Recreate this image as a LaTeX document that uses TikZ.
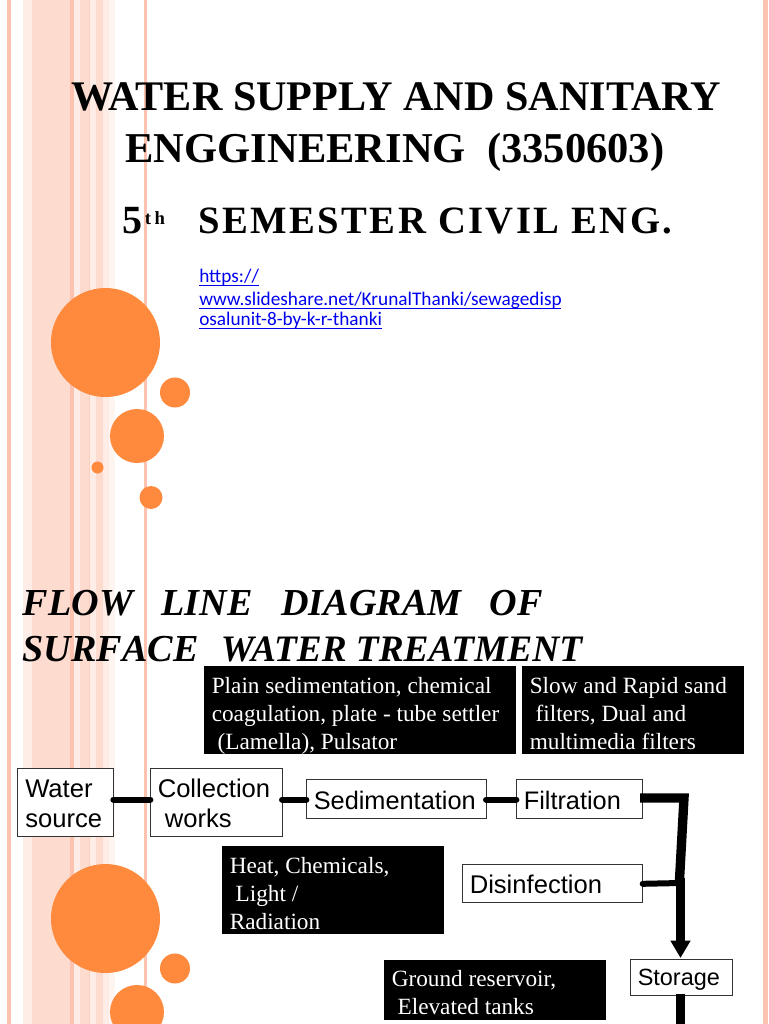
\documentclass[tikz,border=0pt]{standalone}
\usepackage{fontspec}
\setmainfont{Liberation Serif}
\newfontfamily\arialf{Liberation Sans}
\newfontfamily\linkf{Carlito}
\newfontfamily\spacedf[LetterSpace=6.2]{Liberation Serif}
\newfontfamily\spacedth[LetterSpace=20]{Liberation Serif}
\usetikzlibrary{arrows.meta}
\definecolor{strongp}{HTML}{FDC3AE}
\definecolor{midp}{HTML}{FDDBCF}
\definecolor{lightp}{HTML}{FEECE6}
\definecolor{orangec}{HTML}{FF8A3D}
\definecolor{linkc}{HTML}{0000EE}
\tikzset{
  x=0.75pt,y=-0.75pt,
  strip/.style={fill=#1,draw=none},
  disc/.style={fill=orangec,draw=none,circle,inner sep=0pt,minimum size=#1*0.75pt},
  ttl/.style={anchor=base,font=\fontsize{31.6pt}{34pt}\selectfont\bfseries,inner sep=0pt},
  hd/.style={anchor=base west,font=\fontsize{28.6pt}{30pt}\selectfont\bfseries\itshape,inner sep=0pt},
  blk/.style={fill=black,draw=none},
  blktxt/.style={anchor=base west,text=white,font=\fontsize{17.45pt}{20pt}\selectfont,inner sep=0pt},
  wbox/.style={draw=black!80,line width=0.75pt,fill=white},
  boxtxt/.style={anchor=base west,font=\arialf\fontsize{19.2pt}{22pt}\selectfont,inner sep=0pt},
  lnk/.style={anchor=base west,text=linkc,font=\linkf\fontsize{14.45pt}{16pt}\selectfont,inner sep=0pt},
  flow/.style={line width=4.5pt,line cap=round},
  trunk/.style={line width=6.5pt},
}
\begin{document}
\begin{tikzpicture}
\useasboundingbox (0,0) rectangle (768,1024);
\fill[white] (0,0) rectangle (768,1024);
% stripes
\fill[strip=strongp] (6.5,0) rectangle (11,1024);
\fill[strip=lightp] (23,0) rectangle (32,1024);
\fill[strip=midp] (32,0) rectangle (70,1024);
\fill[strip=strongp] (70,0) rectangle (74,1024);
\fill[strip=lightp] (74,0) rectangle (80,1024);
\fill[strip=midp] (80,0) rectangle (89,1024);
\fill[strip=strongp!80!white] (89,0) rectangle (90,1024);
\fill[strip=lightp] (90,0) rectangle (96,1024);
\fill[strip=midp] (96,0) rectangle (103,1024);
\fill[strip=lightp] (103,0) rectangle (109,1024);
\fill[strip=lightp!60!white] (109,0) rectangle (115,1024);
\fill[strip=strongp] (144,0) rectangle (146.5,1024);
\fill[strip=strongp] (763,0) rectangle (768,1024);
% discs
\node[disc=109] (d1) at (105.5,342.5) {};
\node[disc=30] (d2) at (175,392.5) {};
\node[disc=54] (d3) at (137,436) {};
\node[disc=12] (d4) at (97.5,467.5) {};
\node[disc=23] (d5) at (151,497.5) {};
\node[disc=109] (d6) at (105.5,918.5) {};
\node[disc=30] (d7) at (175,968.5) {};
\node[disc=54] (d8) at (137,1012) {};
% titles
\node[ttl] (t1) at (396,110) {WATER SUPPLY AND SANITARY};
\node[ttl,font=\fontsize{31.9pt}{34pt}\selectfont\bfseries] (t2) at (395,162) {ENGGINEERING\ \ (3350603)};
\node[anchor=base west,inner sep=0pt,font=\fontsize{30pt}{32pt}\selectfont\bfseries] (t3) at (122,233.5) {5};
\node[anchor=base west,inner sep=0pt,font=\spacedth\fontsize{14pt}{16pt}\selectfont\bfseries] (t3b) at (144.5,224.5) {th};
\node[anchor=base west,inner sep=0pt,font=\spacedf\fontsize{29pt}{32pt}\selectfont\bfseries] (t4) at (198.5,233.5) {SEMESTER CIVIL ENG.};
% link
\node[lnk] (l1) at (199,282) {https://};
\node[lnk] (l2) at (199,305.5) {www.slideshare.net/KrunalThanki/sewagedisp};
\node[lnk] (l3) at (199,325) {osalunit-8-by-k-r-thanki};
\draw[linkc,line width=0.75pt] (l1.base west)++(0,3) -- ++(60,0);
\draw[linkc,line width=0.75pt] (l2.base west)++(0,3) -- ++(362,0);
\draw[linkc,line width=0.75pt] (l3.base west)++(0,3) -- ++(183,0);
% heading
\node[hd] (h1) at (22.5,615) {FLOW\ \ \ LINE\ \ \ DIAGRAM\ \ \ OF};
\node[hd] (h2) at (22.5,661) {\addfontfeature{Kerning=Off}SURFACE};
\node[hd,font=\fontsize{28pt}{30pt}\selectfont\bfseries\itshape] (h3) at (220.5,661) {WATER TREATMENT};
% black boxes
\fill[blk] (204,666) rectangle (516,754);
\fill[blk] (522,666) rectangle (744,754);
\fill[blk] (222,846) rectangle (444,934);
\fill[blk] (384,960) rectangle (606,1020);
\node[blktxt] (a1) at (211.5,693) {Plain sedimentation, chemical};
\node[blktxt] (a2) at (211.5,721) {coagulation, plate - tube settler};
\node[blktxt] (a3) at (211.5,749) {\ (Lamella), Pulsator};
\node[blktxt] (b1) at (529.5,693) {Slow and Rapid sand};
\node[blktxt] (b2) at (529.5,721) {\ filters, Dual and};
\node[blktxt] (b3) at (529.5,749) {multimedia filters};
\node[blktxt] (c1) at (229.5,873) {Heat, Chemicals,};
\node[blktxt] (c2) at (229.5,901) {\ Light /};
\node[blktxt] (c3) at (229.5,929) {Radiation};
\node[blktxt] (e1) at (391.5,986) {Ground reservoir,};
\node[blktxt] (e2) at (391.5,1014) {\ Elevated tanks};
% white boxes
\node[wbox,minimum width=72pt,minimum height=51pt,inner sep=0pt] (water) at (65.5,802.5) {};
\node[wbox,minimum width=99pt,minimum height=51pt,inner sep=0pt] (coll) at (216.2,802.8) {};
\node[wbox,minimum width=135pt,minimum height=29.25pt,inner sep=0pt] (sed) at (396.2,799.3) {};
\node[wbox,minimum width=94.5pt,minimum height=29.25pt,inner sep=0pt] (filt) at (579.2,799.3) {};
\node[wbox,minimum width=135pt,minimum height=28.5pt,inner sep=0pt] (dis) at (552.2,883.8) {};
\node[wbox,minimum width=76.5pt,minimum height=27pt,inner sep=0pt] (stor) at (681.2,977.8) {};
\node[boxtxt] (wt1) at (25,797) {Water};
\node[boxtxt] (wt2) at (25,827) {source};
\node[boxtxt] (ct1) at (157.5,797) {Collection};
\node[boxtxt] (ct2) at (157.5,827) {\ works};
\node[boxtxt,font=\arialf\fontsize{19pt}{22pt}\selectfont] (st) at (313.5,809) {Sedimentation};
\node[boxtxt,font=\arialf\fontsize{19pt}{22pt}\selectfont] (ft) at (523.5,809) {Filtration};
\node[boxtxt] (dt) at (469.5,893) {Disinfection};
\node[anchor=base west,inner sep=0pt,font=\arialf\fontsize{17.6pt}{20pt}\selectfont] (stt) at (637.5,985) {Storage};
% connectors
\coordinate (fy) at (0,799.5);
\draw[flow] ([xshift=-0.5pt]water.east |- fy) -- ([xshift=0.5pt]coll.west |- fy);
\draw[flow] ([xshift=-0.5pt]coll.east |- fy) -- ([xshift=0.5pt]sed.west |- fy);
\draw[flow] ([xshift=-0.5pt]sed.east |- fy) -- ([xshift=0.5pt]filt.west |- fy);
\coordinate (ty) at (0,798);
\coordinate (bend) at (684,798);
\coordinate (join) at (680.5,883);
\coordinate (tip) at (680.5,958);
\draw[line width=7pt,line join=miter] ([xshift=-2pt]filt.east |- ty) -- (bend) -- (679.5,880);
\draw[flow] (dis.east) -- (join);
\draw[trunk,-{Triangle[length=13pt,width=14.25pt]}] (680.5,878) -- (tip);
\coordinate (down) at (680.5,1024);
\draw[trunk] ([yshift=2pt]stor.south -| down) -- (down);
\end{tikzpicture}
\end{document}
